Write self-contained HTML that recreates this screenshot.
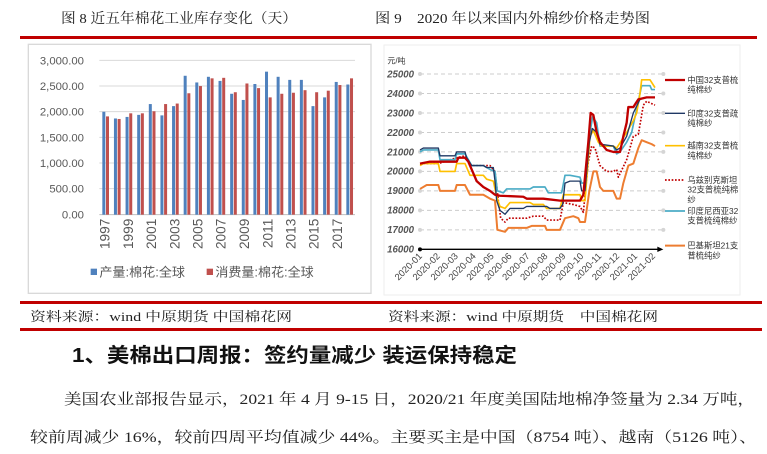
<!DOCTYPE html>
<html><head><meta charset="utf-8"><style>
html,body{margin:0;padding:0;background:#fff;width:767px;height:454px;overflow:hidden}
svg{display:block}
.s{font-family:"Liberation Serif","Noto Serif CJK SC",serif}
.a{font-family:"Liberation Sans","Noto Sans CJK SC",sans-serif}
</style></head><body>
<svg width="767" height="454" viewBox="0 0 767 454" xmlns="http://www.w3.org/2000/svg">
<rect width="767" height="454" fill="#fff"/>
<text x="61" y="23" class="s" font-size="14" fill="#222" textLength="236" lengthAdjust="spacingAndGlyphs">图 8 近五年棉花工业库存变化（天）</text>
<text x="375" y="23" class="s" font-size="14" fill="#222" textLength="275" lengthAdjust="spacingAndGlyphs">图 9　2020 年以来国内外棉纱价格走势图</text>
<rect x="20" y="36" width="737" height="3" fill="#c00000"/>

<g transform="scale(0.33333)">
<rect x="85" y="133" width="1028" height="747" fill="#fff" stroke="#d9d9d9" stroke-width="4"/>
<g stroke="#d9d9d9" stroke-width="3">
<line x1="298" y1="181" x2="1065" y2="181"/><line x1="298" y1="258" x2="1065" y2="258"/>
<line x1="298" y1="335" x2="1065" y2="335"/><line x1="298" y1="412" x2="1065" y2="412"/>
<line x1="298" y1="489" x2="1065" y2="489"/><line x1="298" y1="566" x2="1065" y2="566"/>
</g>
<line x1="298" y1="644" x2="1065" y2="644" stroke="#bfbfbf" stroke-width="3"/>
<g class="a" font-size="34" fill="#595959" text-anchor="end">
<text x="252" y="193">3,000.00</text><text x="252" y="270">2,500.00</text>
<text x="252" y="347">2,000.00</text><text x="252" y="424">1,500.00</text>
<text x="252" y="501">1,000.00</text><text x="252" y="578">500.00</text>
<text x="252" y="656">0.00</text>
</g>
<g id="bars"></g>
<g class="a" font-size="41" fill="#595959" text-anchor="end">
<text transform="translate(329,656) rotate(-90)">1997</text>
<text transform="translate(399,656) rotate(-90)">1999</text>
<text transform="translate(468,656) rotate(-90)">2001</text>
<text transform="translate(538,656) rotate(-90)">2003</text>
<text transform="translate(608,656) rotate(-90)">2005</text>
<text transform="translate(677,656) rotate(-90)">2007</text>
<text transform="translate(747,656) rotate(-90)">2009</text>
<text transform="translate(817,656) rotate(-90)">2011</text>
<text transform="translate(886,656) rotate(-90)">2013</text>
<text transform="translate(956,656) rotate(-90)">2015</text>
<text transform="translate(1026,656) rotate(-90)">2017</text>
</g>
<rect x="272" y="806" width="19" height="19" fill="#4f81bd"/>
<text x="298" y="830" class="a" font-size="38" fill="#595959" textLength="257" lengthAdjust="spacingAndGlyphs">产量:棉花:全球</text>
<rect x="620" y="806" width="19" height="19" fill="#c0504d"/>
<text x="646" y="830" class="a" font-size="38" fill="#595959" textLength="295" lengthAdjust="spacingAndGlyphs">消费量:棉花:全球</text>
</g>

<g transform="translate(380,0) scale(0.33333)">
<rect x="12" y="135" width="1068" height="750" fill="#fff" stroke="#eeeeee" stroke-width="3"/>
<text x="22" y="190" class="a" font-size="24" fill="#333">元/吨</text>
<g id="grid"></g>
<g class="a" font-size="29" font-style="italic" font-weight="bold" fill="#555" text-anchor="end" id="ylab"></g>
<line x1="120" y1="748" x2="840" y2="748" stroke="#000" stroke-width="4"/>
<polygon points="850,748 832,740 832,756" fill="#000"/>
<circle cx="120" cy="748" r="6" fill="#000"/>
<g class="a" font-size="28" fill="#444" text-anchor="end" id="xlab"></g>
<g fill="none" stroke-linejoin="round" id="series"></g>
<g class="a" font-size="25" fill="#333" id="leg"></g>
</g>

<rect x="20" y="301" width="742" height="3" fill="#c00000"/>
<text x="30" y="321" class="s" font-size="13" fill="#222" textLength="262" lengthAdjust="spacingAndGlyphs">资料来源：wind 中原期货 中国棉花网</text>
<text x="388" y="321" class="s" font-size="13" fill="#222" textLength="270" lengthAdjust="spacingAndGlyphs">资料来源：wind 中原期货　中国棉花网</text>
<rect x="20" y="328" width="742" height="3" fill="#c00000"/>
<text x="72" y="362" class="a" font-size="20" font-weight="bold" fill="#111" textLength="445" lengthAdjust="spacingAndGlyphs">1、美棉出口周报：签约量减少 装运保持稳定</text>
<text x="64" y="404" class="s" font-size="15" fill="#222" textLength="691" lengthAdjust="spacingAndGlyphs">美国农业部报告显示，2021 年 4 月 9-15 日，2020/21 年度美国陆地棉净签量为 2.34 万吨，</text>
<text x="30" y="442" class="s" font-size="15" fill="#222" textLength="727" lengthAdjust="spacingAndGlyphs">较前周减少 16%，较前四周平均值减少 44%。主要买主是中国（8754 吨）、越南（5126 吨）、</text>
</svg>
<script>
var NS="http://www.w3.org/2000/svg";
function el(p,t,a,txt){var e=document.createElementNS(NS,t);for(var k in a)e.setAttribute(k,a[k]);if(txt)e.textContent=txt;p.appendChild(e);return e;}
var B=[[2000,1910],[1870,1860],[1900,1970],[1940,1970],[2150,2010],[1930,2150],[2110,2160],[2700,2360],[2570,2500],[2680,2650],[2600,2660],[2350,2380],[2230,2550],[2540,2460],[2780,2280],[2680,2350],[2620,2370],[2620,2420],[2110,2380],[2280,2410],[2580,2520],[2530,2650]];
var bg=document.getElementById("bars");
B.forEach(function(v,i){var x=307+i*34.86;
 var h1=v[0]*0.15433,h2=v[1]*0.15433;
 el(bg,"rect",{x:x,y:644-h1,width:9,height:h1,fill:"#4f81bd"});
 el(bg,"rect",{x:x+11,y:644-h2,width:9,height:h2,fill:"#c0504d"});});
function Y(v){return 222+(25000-v)*0.05844;}
var g=document.getElementById("grid"),yl=document.getElementById("ylab");
for(var v=25000;v>=16000;v-=1000){var y=Y(v);
 if(v>16000){el(g,"line",{x1:120,y1:y,x2:850,y2:y,stroke:"#cccccc","stroke-width":3,"stroke-dasharray":"12 9"});
 el(g,"circle",{cx:120,cy:y,r:6,fill:"#d5d5d5"});el(g,"circle",{cx:850,cy:y,r:6,fill:"#d5d5d5"});}
 el(yl,"text",{x:102,y:y+10},String(v));}
var xl=document.getElementById("xlab");
var ms=["2020-01","2020-02","2020-03","2020-04","2020-05","2020-06","2020-07","2020-08","2020-09","2020-10","2020-11","2020-12","2021-01","2021-02"];
ms.forEach(function(m,i){var x=128+i*53.8;el(xl,"text",{transform:"translate("+x+",770) rotate(-45)"},m);});
var S=[
{c:"#ed7d31",w:6,p:[[120,19100],[140,19300],[175,19300],[180,19000],[225,19000],[230,19300],[255,19300],[270,18800],[310,18800],[330,18600],[345,18500],[352,17000],[375,16900],[385,17100],[440,17100],[455,17200],[495,17200],[500,17000],[540,17000],[555,17600],[580,17700],[595,17600],[600,17400],[615,17400],[628,19000],[640,20000],[650,20000],[660,19200],[670,19000],[700,19000],[710,18600],[720,18600],[730,19400],[745,20300],[760,20400],[775,21200],[785,21600],[800,21500],[815,21400],[825,21300]]},
{c:"#c00000",w:5,d:"5 5",p:[[120,20400],[175,20400],[230,20700],[255,20800],[270,20300],[330,20300],[345,20000],[355,18500],[362,17600],[375,17400],[385,17600],[440,17600],[460,17700],[490,17700],[500,17500],[540,17500],[550,18400],[580,18300],[600,18200],[610,17900],[625,20500],[635,21300],[645,21200],[660,20300],[680,20000],[700,20000],[710,20100],[715,19700],[740,20600],[760,21800],[775,21900],[790,23400],[800,23600],[825,23400]]},
{c:"#4bacc6",w:5,p:[[120,21000],[130,21100],[175,21100],[180,20600],[225,20600],[230,20900],[255,20900],[265,20600],[275,20300],[310,20300],[330,20100],[345,20000],[352,19000],[370,18900],[380,19100],[450,19100],[460,19200],[495,19200],[505,18900],[545,18900],[555,19800],[570,19800],[600,19700],[605,19400],[615,19400],[630,22000],[638,22800],[650,22500],[660,21300],[700,21300],[710,20900],[720,21000],[740,21500],[755,22000],[770,23200],[785,24400],[810,24400],[815,24200],[825,24200]]},
{c:"#ffc000",w:5,p:[[120,20300],[130,20400],[175,20400],[180,20000],[225,20000],[230,20400],[255,20400],[270,19800],[310,19800],[320,19600],[340,19500],[350,18700],[360,18200],[375,18100],[390,18400],[450,18400],[460,18300],[490,18300],[500,18100],[540,18100],[550,18800],[600,18800],[605,18500],[615,18500],[630,21800],[640,22100],[655,21500],[665,21300],[700,21300],[710,21200],[740,22000],[760,22600],[770,23000],[780,24000],[785,24700],[810,24700],[825,24300]]},
{c:"#1f3864",w:4,p:[[120,21100],[130,21200],[175,21200],[180,20800],[225,20800],[230,21000],[255,21000],[260,20700],[275,20300],[310,20300],[320,20200],[340,20200],[345,19500],[350,18500],[360,18000],[375,17800],[390,18100],[430,18100],[440,18200],[500,18200],[510,18100],[540,18100],[548,18300],[555,19400],[570,19500],[600,19500],[605,19000],[615,19000],[628,21500],[637,22200],[650,22000],[660,21400],[700,21300],[710,21100],[720,21200],[740,21800],[760,23000],[780,23700],[800,23800],[825,23800]]},
{c:"#c00000",w:7,p:[[120,20400],[150,20500],[230,20500],[235,20700],[255,20700],[265,20500],[280,19900],[290,19500],[310,19200],[330,19000],[345,18800],[360,18750],[430,18700],[440,18600],[490,18600],[540,18500],[600,18500],[610,18800],[625,21500],[632,23000],[640,22900],[650,22000],[660,21500],[680,21100],[700,21000],[720,21000],[730,21800],[740,22500],[745,23300],[760,23300],[775,23700],[800,23800],[825,23800]]}
];
var sg=document.getElementById("series");
S.forEach(function(s){var a={points:s.p.map(function(q){return q[0]+","+Y(q[1]).toFixed(1)}).join(" "),stroke:s.c,"stroke-width":s.w};if(s.d)a["stroke-dasharray"]=s.d;el(sg,"polyline",a);});
var lg=document.getElementById("leg");
var L=[[240,"#c00000",7,null,["中国32支普梳","纯棉纱"]],[340,"#1f3864",4,null,["印度32支普疏","纯棉纱"]],[437,"#ffc000",5,null,["越南32支普梳","纯棉纱"]],[540,"#c00000",5,"5 5",["乌兹别克斯坦","32支普梳纯棉","纱"]],[633,"#4bacc6",5,null,["印度尼西亚32","支普梳纯棉纱"]],[737,"#ed7d31",6,null,["巴基斯坦21支","普梳纯纱"]]];
L.forEach(function(l){var a={x1:855,y1:l[0],x2:915,y2:l[0],stroke:l[1],"stroke-width":l[2]};if(l[3])a["stroke-dasharray"]=l[3];el(lg,"line",a);
 l[4].forEach(function(t,j){el(lg,"text",{x:922,y:l[0]+9+j*29},t);});});
</script>
</body></html>
